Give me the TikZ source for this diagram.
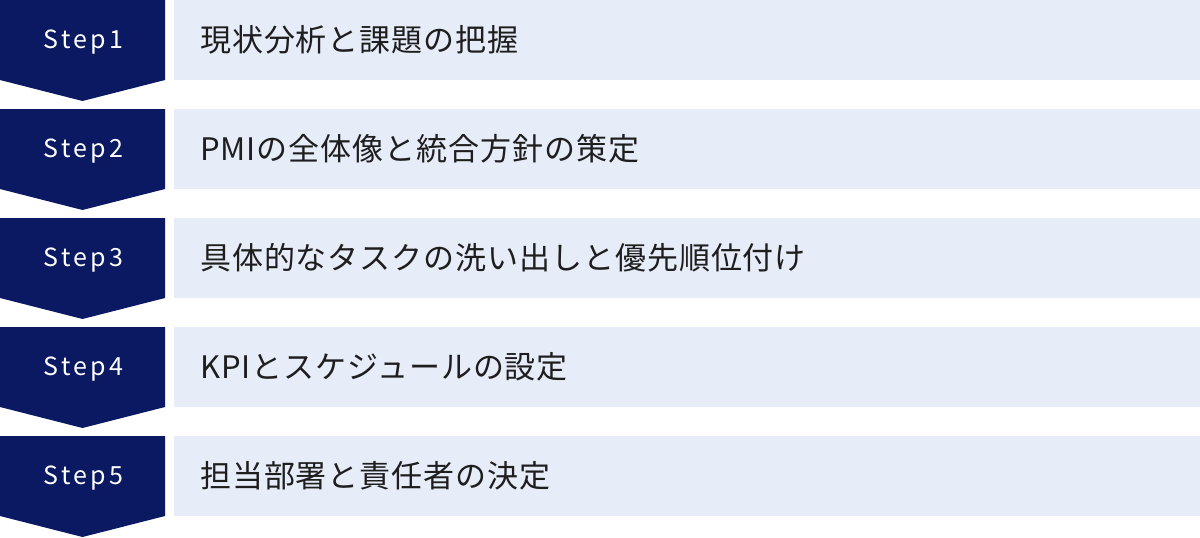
\documentclass[tikz,border=0pt]{standalone}
\usepackage{fontspec}
\setmainfont[LetterSpace=3]{Noto Sans CJK JP}
\newfontfamily\steplabelfont[LetterSpace=13]{Noto Sans CJK JP}
\definecolor{navy}{HTML}{0A1961}
\definecolor{paleblue}{HTML}{E6ECF8}
\definecolor{ink}{HTML}{1E1E1E}
\tikzset{
  chev/.style={fill=navy, draw=none},
  itembox/.style={fill=paleblue, draw=none},
  steptext/.style={text=white, font=\steplabelfont\fontsize{25}{28}\selectfont, anchor=base, inner sep=0pt},
  itemtext/.style={text=ink, font=\fontsize{31}{34}\selectfont, anchor=base west, inner sep=0pt},
}
\begin{document}
\begin{tikzpicture}[x=1pt,y=-1pt]
\useasboundingbox (0,0) rectangle (1200,538);
\foreach \i/\t in {0/現状分析と課題の把握,1/PMIの全体像と統合方針の策定,2/具体的なタスクの洗い出しと優先順位付け,3/KPIとスケジュールの設定,4/担当部署と責任者の決定}{
  \pgfmathsetmacro{\y}{109*\i}
  \pgfmathtruncatemacro{\n}{\i+1}
  \fill[chev] (0,\y) -- (165,\y) -- (165,\y+80) -- (82.5,\y+101) -- (0,\y+80) -- cycle;
  \node[steptext] (s\n) at (83.5,\y+48.5) {Step\n};
  \fill[itembox] (174,\y) rectangle (1200,\y+80);
  \node[itemtext] (t\n) at (200,\y+51) {\t};
}
\end{tikzpicture}
\end{document}
